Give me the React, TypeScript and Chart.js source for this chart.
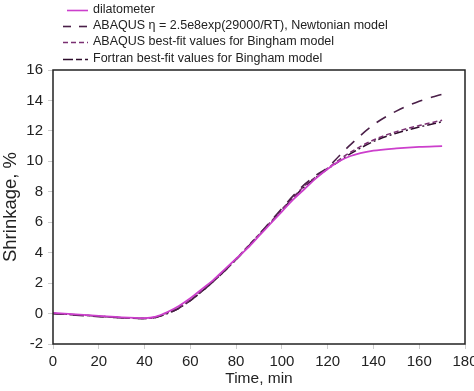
import React, { useEffect, useRef } from "react";
import { Chart, registerables } from "chart.js";

Chart.register(...registerables);

const times = [0, 10, 20, 30, 40, 45, 50, 55, 60, 65, 70, 75, 80, 85, 90, 95, 100, 105, 110, 115, 120, 125, 130, 140, 150, 160, 170];
const dilatometer = [0.05, -0.05, -0.15, -0.25, -0.3, -0.2, 0.1, 0.5, 1.0, 1.6, 2.2, 2.9, 3.6, 4.3, 5.1, 5.9, 6.7, 7.5, 8.2, 8.9, 9.5, 10.0, 10.35, 10.7, 10.85, 10.95, 11.0];
const newtonian = [0.0, -0.1, -0.2, -0.28, -0.32, -0.25, 0.0, 0.35, 0.85, 1.45, 2.1, 2.8, 3.55, 4.35, 5.2, 6.05, 6.9, 7.75, 8.5, 9.1, 9.6, 10.35, 11.1, 12.4, 13.3, 13.95, 14.4];
const abaqusBingham = [0.0, -0.08, -0.18, -0.27, -0.32, -0.22, 0.05, 0.4, 0.9, 1.5, 2.15, 2.85, 3.6, 4.4, 5.2, 6.0, 6.85, 7.65, 8.4, 9.0, 9.55, 10.1, 10.6, 11.4, 11.95, 12.35, 12.7];
const fortranBingham = [0.0, -0.08, -0.18, -0.27, -0.33, -0.25, 0.0, 0.35, 0.85, 1.45, 2.1, 2.8, 3.55, 4.35, 5.15, 5.95, 6.8, 7.6, 8.35, 8.95, 9.5, 10.0, 10.5, 11.3, 11.85, 12.25, 12.6];

const labels = [
  "dilatometer",
  "ABAQUS \u03b7 = 2.5e8exp(29000/RT), Newtonian model",
  "ABAQUS best-fit values for Bingham model",
  "Fortran best-fit values for Bingham model",
];

const xTitle = "Time, min";
const yTitle = "Shrinkage, %";

const FONT = "'Liberation Sans', Arial, sans-serif";

const toPts = (ys: number[]) => ys.map((y, i) => ({ x: times[i], y }));

const legendPlugin = {
  id: "customLegend",
  afterDraw(chart: any) {
    const ctx = chart.ctx;
    const rows = [10, 26, 42, 59];
    ctx.save();
    chart.data.datasets.forEach((ds: any, i: number) => {
      const y = rows[i];
      ctx.beginPath();
      ctx.strokeStyle = ds.borderColor;
      ctx.lineWidth = 1.6;
      ctx.setLineDash(ds.legendDash || []);
      ctx.moveTo(i === 0 ? 67 : 63, y + 0.5);
      ctx.lineTo(88, y + 0.5);
      ctx.stroke();
      ctx.setLineDash([]);
      ctx.fillStyle = "#222";
      ctx.font = `12.5px ${FONT}`;
      ctx.textBaseline = "middle";
      ctx.textAlign = "left";
      ctx.fillText(ds.label, 93, y);
    });
    ctx.restore();
  },
};

const boxPlugin = {
  id: "box",
  afterDatasetsDraw(chart: any) {
    const { ctx, chartArea } = chart;
    ctx.save();
    ctx.strokeStyle = "#222";
    ctx.lineWidth = 1.5;
    ctx.strokeRect(chartArea.left, chartArea.top, chartArea.right - chartArea.left, chartArea.bottom - chartArea.top);
    ctx.restore();
  },
};

export default function App() {
  const ref = useRef<HTMLCanvasElement | null>(null);

  useEffect(() => {
    if (!ref.current) return;
    const chart = new Chart(ref.current, {
      type: "line",
      data: {
        datasets: [
          {
            label: labels[0],
            data: toPts(dilatometer),
            borderColor: "#cc3fcc",
            borderWidth: 1.8,
            pointRadius: 0,
            cubicInterpolationMode: "monotone",
            legendDash: [],
          } as any,
          {
            label: labels[1],
            data: toPts(newtonian),
            borderColor: "#4a1f48",
            borderWidth: 1.6,
            borderDash: [11, 9],
            pointRadius: 0,
            cubicInterpolationMode: "monotone",
            legendDash: [8, 8],
          } as any,
          {
            label: labels[2],
            data: toPts(abaqusBingham),
            borderColor: "#7a2f72",
            borderWidth: 1.5,
            borderDash: [5, 3],
            pointRadius: 0,
            cubicInterpolationMode: "monotone",
            legendDash: [5, 3],
          } as any,
          {
            label: labels[3],
            data: toPts(fortranBingham),
            borderColor: "#2e0d2c",
            borderWidth: 1.5,
            borderDash: [9, 3, 2, 3],
            pointRadius: 0,
            cubicInterpolationMode: "monotone",
            legendDash: [10, 3, 6, 3],
          } as any,
        ],
      },
      options: {
        responsive: false,
        animation: false,
        devicePixelRatio: 1,
        layout: { padding: { top: 70, right: 9, left: 0, bottom: 0 } },
        plugins: { legend: { display: false }, tooltip: { enabled: false } },
        scales: {
          x: {
            type: "linear",
            min: 0,
            max: 180,
            ticks: { stepSize: 20, color: "#222", font: { size: 15, family: FONT }, padding: 4, maxRotation: 0 },
            grid: { drawOnChartArea: false, drawTicks: true, tickLength: 5, color: "#cccccc" },
            border: { display: false },
            title: { display: true, text: xTitle, color: "#222", font: { size: 15.5, family: FONT }, padding: { top: 0, bottom: 3 } },
            afterFit: (s: any) => {
              s.height = 47;
              s.paddingLeft = 0;
              s.paddingRight = 0;
            },
          },
          y: {
            type: "linear",
            min: -2,
            max: 16,
            ticks: { stepSize: 2, color: "#222", font: { size: 15, family: FONT }, padding: 5 },
            grid: { drawOnChartArea: false, drawTicks: true, tickLength: 5, color: "#cccccc" },
            border: { display: false },
            title: { display: true, text: yTitle, color: "#222", font: { size: 18.5, family: FONT }, padding: { top: 0, bottom: 0 } },
            afterFit: (s: any) => {
              s.width = 53;
              s.paddingTop = 0;
              s.paddingBottom = 0;
            },
          },
        },
      } as any,
      plugins: [legendPlugin, boxPlugin],
    });
    return () => chart.destroy();
  }, []);

  return (
    <div style={{ position: "fixed", left: 0, top: 0, width: 474, height: 391, background: "#fff" }}>
      <canvas ref={ref} width={474} height={391} />
    </div>
  );
}
